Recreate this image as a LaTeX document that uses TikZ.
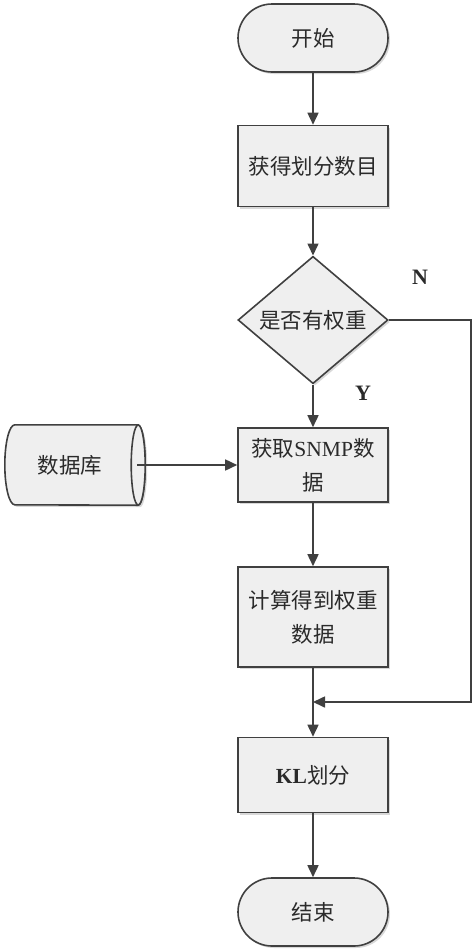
\documentclass[tikz,border=0pt]{standalone}
\usepackage{fontspec}
\setmainfont{Liberation Serif}
\newfontfamily\cjk{Noto Sans CJK SC}
\usetikzlibrary{shapes.geometric,shapes.misc,arrows.meta,shadows}
\definecolor{lc}{HTML}{404040}
\definecolor{bf}{HTML}{EFEFEF}
\definecolor{tc}{HTML}{2A2A2A}
\begin{document}
\begin{tikzpicture}[x=1pt,y=-1pt,
  shd/.style={drop shadow={shadow xshift=2pt,shadow yshift=-2pt,fill=black!30,opacity=.5}},
  base/.style={draw=lc, line width=1.6pt, fill=bf, shd,
    font=\fontsize{21.5}{34}\selectfont\cjk, text=tc, align=center, inner sep=0pt},
  procbox/.style={base, rectangle, minimum width=150pt},
  term/.style={base, rounded rectangle, minimum width=150pt, minimum height=68pt},
  decision/.style={base, diamond, minimum width=150pt, minimum height=98pt},
  dbody/.style={draw=lc, line width=1.6pt, fill=bf},
  txt/.style={font=\fontsize{21.5}{34}\selectfont\cjk, text=tc, inner sep=0pt},
  arr/.style={draw=lc, line width=1.6pt, -{Triangle[length=12pt,width=11pt]}},
  lbl/.style={font=\fontsize{22}{26}\selectfont\bfseries, text=tc}]
\useasboundingbox (0,0) rectangle (474,951);
\node[term] (start) at (313,38) {开始};
\node[procbox, minimum height=81pt] (count) at (313,166) {获得划分数目};
\node[decision] (dec) at (313,320) {是否有权重};
\node[procbox, minimum height=74pt] (snmp) at (313,465) {获取{\rmfamily SNMP}数\\据};
\node[procbox, minimum height=100pt] (calc) at (313,617) {计算得到权重\\数据};
\node[procbox, minimum height=75pt] (kl) at (313,775) {{\rmfamily\bfseries KL}划分};
\node[term] (end) at (313,912) {结束};
% database cylinder
\node[minimum width=140pt, minimum height=80pt, inner sep=0pt] (db) at (75,465) {};
\path[dbody, shd] ([xshift=-7pt]db.north east) -- ([xshift=10pt]db.north west)
  arc[start angle=90, end angle=270, x radius=10pt, y radius=40pt]
  -- ([xshift=-7pt]db.south east)
  arc[start angle=-90, end angle=90, x radius=7pt, y radius=40pt] -- cycle;
\path[dbody] ([xshift=-7pt]db.east) ellipse [x radius=7pt, y radius=40pt];
\node[txt] (dbtext) at ([xshift=-5pt]db.center) {数据库};
\node[lbl] (nlab) at (420,277) {N};
\node[lbl] (ylab) at (363,393) {Y};
\coordinate (rt) at (471,320);
\coordinate (merge) at (313,702);
\draw[arr] (start) -- (count);
\draw[arr] (count) -- (dec);
\draw[arr] (dec) -- (snmp);
\draw[arr] ([xshift=-8pt]db.east) -- (snmp.west |- db.east);
\draw[arr] (snmp) -- (calc);
\draw[arr] (calc) -- (kl);
\draw[arr] (dec.east) -- (rt) |- (merge);
\draw[arr] (kl) -- (end);
\end{tikzpicture}
\end{document}
